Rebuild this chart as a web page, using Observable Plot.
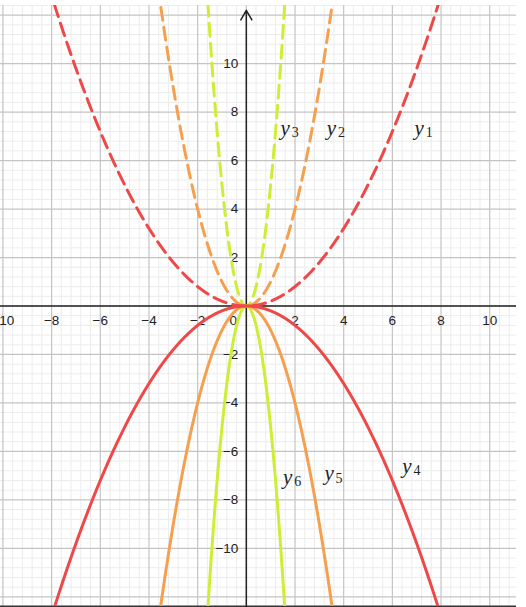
<!DOCTYPE html>
<html>
<head>
<meta charset="utf-8">
<script src="https://cdn.jsdelivr.net/npm/d3@7"></script>
<script src="https://cdn.jsdelivr.net/npm/@observablehq/plot@0.6"></script>
<style>
  html, body { margin: 0; padding: 0; background: #ffffff; }
  #chart svg { display: block; }
</style>
</head>
<body>
<div id="chart"></div>
<script>
// ---- data ----
const curveNames = ["y1", "y2", "y3", "y4", "y5", "y6"];
const curveSubs = ["1", "2", "3", "4", "5", "6"];
const curveCoef = [0.2, 1, 5, -0.2, -1, -5];          // y = a·x²
const curveDashed = [true, true, true, false, false, false];
const curveColors = ["#ef4848", "#f5a04e", "#cdee35", "#ef4848", "#f5a04e", "#cdee35"];
const labelX = [7.1, 3.5, 1.6, 6.6, 3.4, 1.7];
const labelY = [7.35, 7.35, 7.35, -6.6, -6.9, -7.05];
const xTicks = [-10, -8, -6, -4, -2, 2, 4, 6, 8, 10];
const yTicks = [-10, -8, -6, -4, -2, 2, 4, 6, 8, 10];
const xDomain = [-10.1, 11.1];
const yDomain = [-12.4, 12.4];

const fmt = d => (d < 0 ? "\u2212" + Math.abs(d) : String(d));

const xSamples = d3.range(xDomain[0], xDomain[1] + 0.005, 0.01);
const curves = curveNames.map((name, i) => ({
  name, a: curveCoef[i], dashed: curveDashed[i], color: curveColors[i],
  pts: xSamples.map(x => ({x, y: curveCoef[i] * x * x}))
}));
const drawOrder = [2, 5, 1, 4, 0, 3];

const labels = curveNames.map((name, i) => ({name, sub: curveSubs[i], x: labelX[i], y: labelY[i]}));

const minorX = d3.range(-10, 11.2, 0.4).filter(v => Math.abs(v / 2 - Math.round(v / 2)) > 1e-6);
const minorY = d3.range(-12.4, 12.5, 0.4).filter(v => Math.abs(v / 2 - Math.round(v / 2)) > 1e-6);
const majorX = d3.range(-10, 11.2, 2);
const majorY = d3.range(-12, 12.5, 2);

const chart = Plot.plot({
  width: 526,
  height: 607,
  marginLeft: 0,
  marginRight: 10,
  marginTop: 5,
  marginBottom: 1,
  x: {domain: xDomain, axis: null},
  y: {domain: yDomain, axis: null},
  style: {background: "#ffffff", fontFamily: "Liberation Sans, Arial, sans-serif"},
  marks: [
    Plot.ruleX(minorX, {stroke: "#ececec", strokeWidth: 1}),
    Plot.ruleY(minorY, {stroke: "#ececec", strokeWidth: 1}),
    Plot.ruleX(majorX, {stroke: "#c4c4c4", strokeWidth: 1.2}),
    Plot.ruleY(majorY, {stroke: "#c4c4c4", strokeWidth: 1.2}),
    Plot.ruleY([yDomain[0]], {stroke: "#333333", strokeWidth: 2}),
    Plot.ruleY([0], {stroke: "#222222", strokeWidth: 1.5}),
    Plot.arrow([{x1: 0, y1: yDomain[0], x2: 0, y2: 12.2}], {
      x1: "x1", y1: "y1", x2: "x2", y2: "y2",
      stroke: "#222222", strokeWidth: 1.5, headLength: 11, inset: 0
    }),
    Plot.text(xTicks, {x: d => d, y: () => 0, text: fmt, dy: 15, fontSize: 13.5, fill: "#222"}),
    Plot.text(yTicks, {x: () => 0, y: d => d, text: fmt, dx: -8, textAnchor: "end", fontSize: 13.5, fill: "#222"}),
    Plot.text([0], {x: () => 0, y: () => 0, text: () => "0", dx: -13, dy: 15, fontSize: 13.5, fill: "#222"}),
    ...drawOrder.map(i => Plot.line(curves[i].pts, {
      x: "x", y: "y", stroke: curves[i].color, strokeWidth: 3,
      strokeDasharray: curves[i].dashed ? "13,7" : null, clip: true
    })),
    Plot.text(labels, {x: "x", y: "y", text: () => "y", fontSize: 21, fontStyle: "italic",
      fontFamily: "Liberation Serif, Times New Roman, serif", fill: "#222"}),
    Plot.text(labels, {x: "x", y: "y", text: "sub", dx: 10, dy: 5, fontSize: 14,
      fontFamily: "Liberation Serif, Times New Roman, serif", fill: "#222"})
  ]
});

document.getElementById("chart").appendChild(chart);
</script>
</body>
</html>
